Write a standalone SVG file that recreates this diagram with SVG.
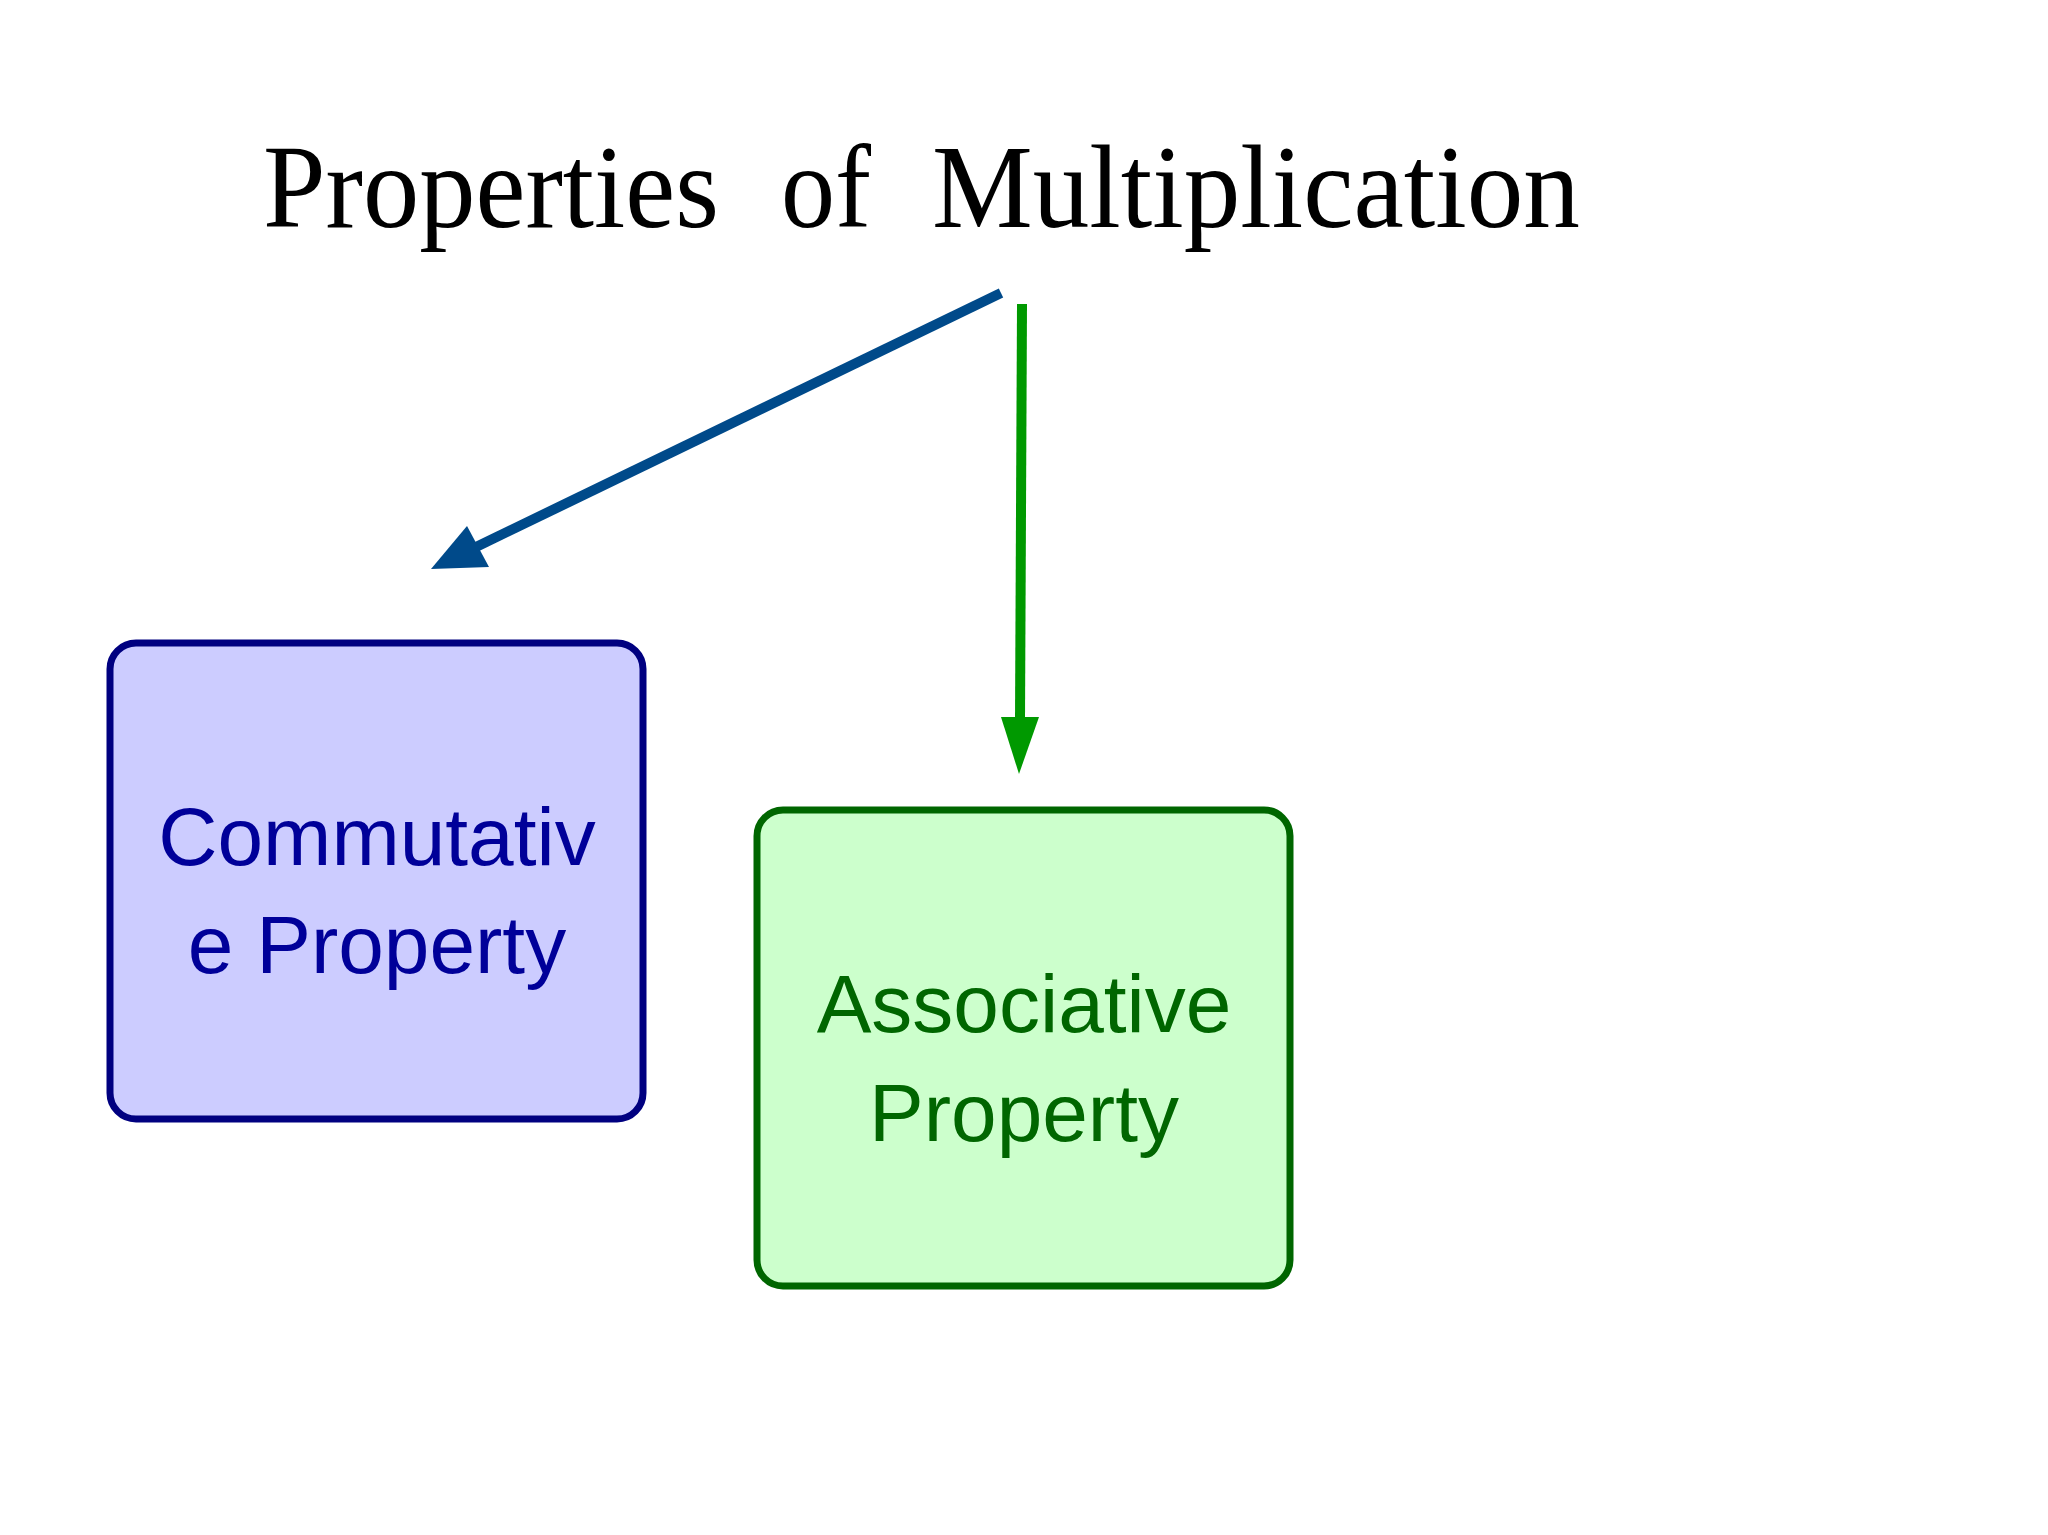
<svg xmlns="http://www.w3.org/2000/svg" width="2048" height="1535" viewBox="0 0 2048 1535">
<style>
.title{font-family:"Liberation Serif","Times New Roman",serif;font-size:118px;fill:#000}
.lbl{font-family:"Liberation Sans",Arial,sans-serif;font-size:82px;text-anchor:middle}
.blue{fill:#ccccff;stroke:#000080;stroke-width:7}
.green{fill:#ccffcc;stroke:#006600;stroke-width:7}
</style>
<rect width="2048" height="1535" fill="#fff"/>
<g id="title">
<text class="title" x="263" y="227" textLength="456" lengthAdjust="spacingAndGlyphs">Properties</text>
<text class="title" x="781" y="227" textLength="90" lengthAdjust="spacingAndGlyphs">of</text>
<text class="title" x="932" y="227" textLength="648" lengthAdjust="spacingAndGlyphs">Multiplication</text>
</g>
<g id="connectors">
<line x1="1001" y1="293" x2="476" y2="547" stroke="#004a8a" stroke-width="10"/>
<polygon points="431,569 467,526 489,567" fill="#004a8a"/>
<line x1="1022" y1="304" x2="1020" y2="719" stroke="#009900" stroke-width="10"/>
<polygon points="1001,717 1039,717 1019,774" fill="#009900"/>
</g>
<g id="commutative">
<rect class="blue" x="110" y="643" width="533" height="476" rx="26"/>
<text class="lbl" x="377" y="865" fill="#000099">Commutativ</text>
<text class="lbl" x="377" y="973" fill="#000099">e Property</text>
</g>
<g id="associative">
<rect class="green" x="757" y="810" width="533" height="476" rx="26"/>
<text class="lbl" x="1024" y="1032" fill="#006600">Associative</text>
<text class="lbl" x="1024" y="1141" fill="#006600">Property</text>
</g>
</svg>
